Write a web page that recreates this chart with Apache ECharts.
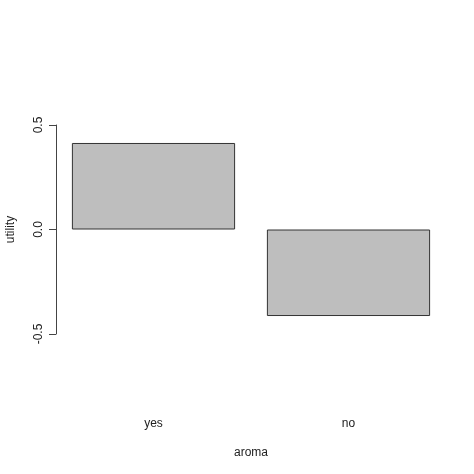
<!DOCTYPE html>
<html>
<head>
<meta charset="utf-8">
<script src="https://cdn.jsdelivr.net/npm/echarts@6/dist/echarts.min.js"></script>
<style>
html, body { margin: 0; padding: 0; background: #fff; }
#chart { width: 474px; height: 474px; }
</style>
</head>
<body>
<div id="chart"></div>
<script>
const categories = ['yes', 'no'];
const utility = [0.414, -0.414];
const yTicks = [-0.5, 0.0, 0.5];

const font = 'Liberation Sans, Arial, sans-serif';

const option = {
    animation: false,
    backgroundColor: '#ffffff',
    grid: {
        left: 56,
        right: 28,
        top: 125,
        bottom: 140,
        containLabel: false,
        outerBoundsMode: 'none'
    },
    xAxis: {
        type: 'category',
        data: categories,
        name: 'aroma',
        nameLocation: 'middle',
        nameGap: 113,
        nameTextStyle: { fontFamily: font, fontSize: 12, color: '#222' },
        axisLine: { show: false },
        axisTick: { show: false },
        axisLabel: { margin: 84, fontFamily: font, fontSize: 12, color: '#222' }
    },
    yAxis: {
        type: 'value',
        min: yTicks[0],
        max: yTicks[yTicks.length - 1],
        interval: 0.5,
        name: 'utility',
        nameLocation: 'middle',
        nameRotate: 90,
        nameGap: 39,
        nameTextStyle: { fontFamily: font, fontSize: 12, color: '#222' },
        splitLine: { show: false },
        axisLine: { show: true, onZero: false, lineStyle: { color: '#444', width: 1 } },
        axisTick: { show: true, length: 7, lineStyle: { color: '#444' } },
        axisLabel: {
            rotate: 90,
            margin: 11,
            fontFamily: font,
            fontSize: 12,
            color: '#222',
            formatter: v => v.toFixed(1)
        }
    },
    series: [{
        type: 'bar',
        data: utility,
        barCategoryGap: '16.3%',
        itemStyle: {
            color: '#bebebe',
            borderColor: '#333',
            borderWidth: 1
        }
    }]
};

const chart = echarts.init(document.getElementById('chart'));
chart.setOption(option);
</script>
</body>
</html>
